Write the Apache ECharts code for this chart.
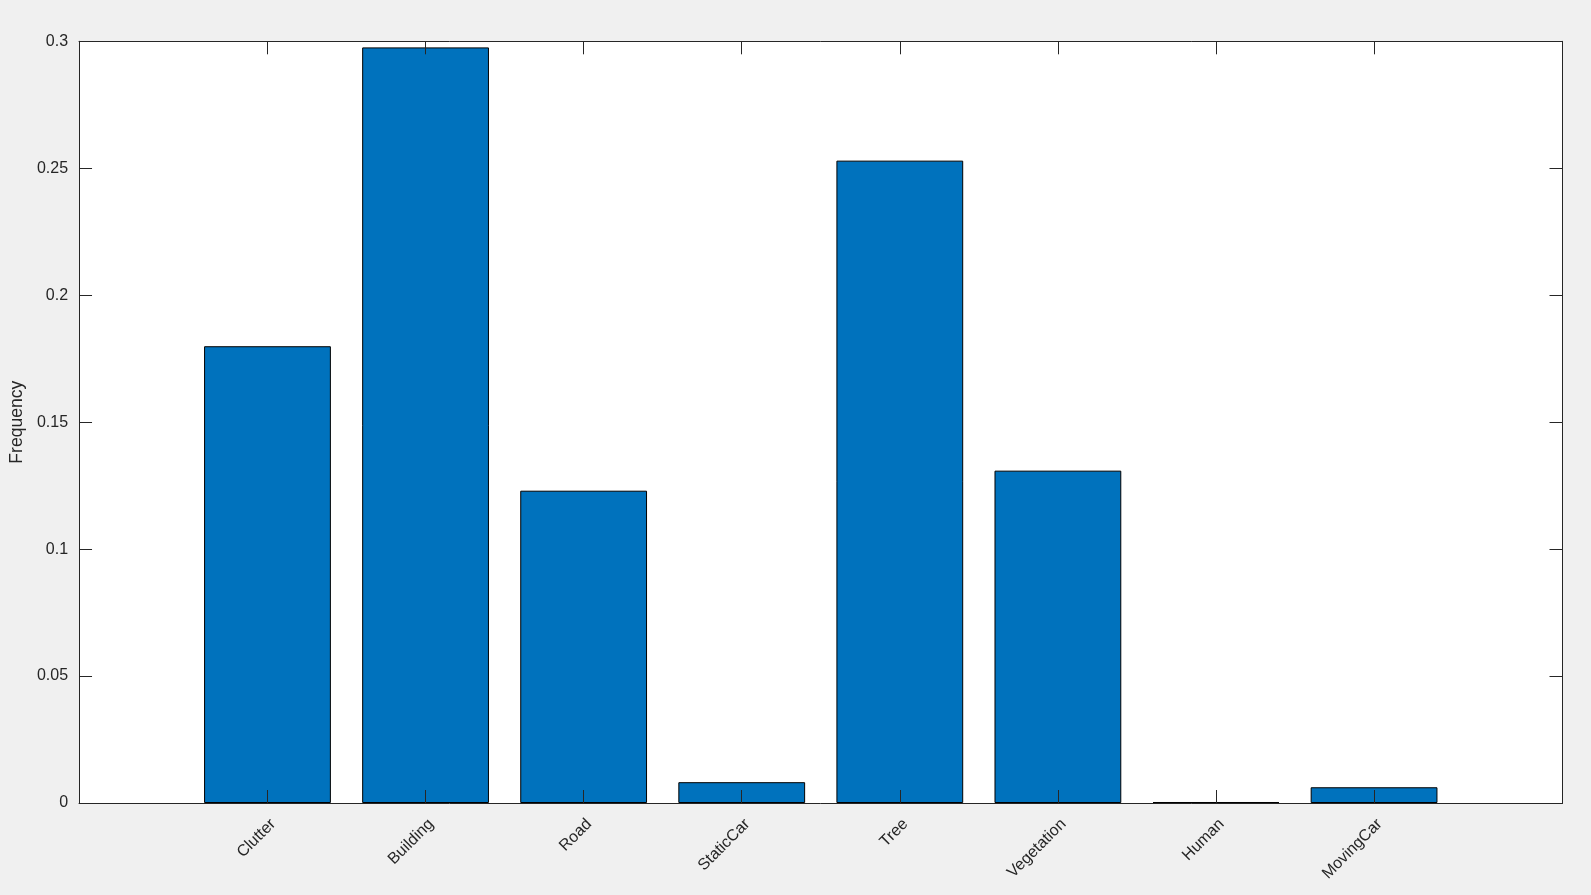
<!DOCTYPE html>
<html>
<head>
<meta charset="utf-8">
<script src="https://cdn.jsdelivr.net/npm/echarts@6/dist/echarts.min.js"></script>
<style>
html,body{margin:0;padding:0;background:#f0f0f0;}
#chart{width:1591px;height:895px;}
</style>
</head>
<body>
<div id="chart"></div>
<script>
const categories = ['Clutter','Building','Road','StaticCar','Tree','Vegetation','Human','MovingCar'];
const frequency = [0.1799, 0.2976, 0.1230, 0.0082, 0.2530, 0.1309, 0.0004, 0.0062];
const yTicks = [0, 0.05, 0.1, 0.15, 0.2, 0.25, 0.3];

const positions = categories.map((c, i) => i + 1);
const barData = frequency.map((v, i) => [positions[i], v]);

const textColor = '#262626';
const fontFamily = 'Liberation Sans, Arial, Helvetica, sans-serif';

const chart = echarts.init(document.getElementById('chart'));
const xCommon = {
  type: 'value',
  min: -0.192,
  max: 9.192,
  z: 10,
  splitLine: { show: false },
  axisLine: { show: true, onZero: false, lineStyle: { color: textColor, width: 1 } },
  axisTick: { show: true, inside: true, length: 13, customValues: positions, lineStyle: { color: textColor, width: 1 } }
};
const yCommon = {
  type: 'value',
  min: 0,
  max: 0.3,
  interval: 0.05,
  z: 10,
  splitLine: { show: false },
  axisLine: { show: true, onZero: false, lineStyle: { color: textColor, width: 1 } },
  axisTick: { show: true, inside: true, length: 13, customValues: yTicks, lineStyle: { color: textColor, width: 1 } }
};
chart.setOption({
  backgroundColor: '#f0f0f0',
  animation: false,
  grid: { left: 75.7, right: 28.5, top: 41.3, bottom: 92, show: true, backgroundColor: '#ffffff', borderWidth: 0 },
  xAxis: [
    Object.assign({}, xCommon, {
      position: 'bottom',
      axisLabel: {
        show: true, customValues: positions, rotate: 45, margin: 13,
        verticalAlign: 'top',
        color: textColor, fontSize: 16, fontFamily: fontFamily,
        formatter: v => categories[Math.round(v) - 1] || ''
      }
    }),
    Object.assign({}, xCommon, { position: 'top', axisLabel: { show: false } })
  ],
  yAxis: [
    Object.assign({}, yCommon, {
      position: 'left',
      name: 'Frequency',
      nameLocation: 'middle',
      nameGap: 49,
      nameRotate: 90,
      nameTextStyle: { color: textColor, fontSize: 17.6, fontFamily: fontFamily },
      axisLabel: {
        show: true, customValues: yTicks, margin: 11, color: textColor, fontSize: 16, fontFamily: fontFamily,
        formatter: v => String(parseFloat(v.toFixed(2)))
      }
    }),
    Object.assign({}, yCommon, { position: 'right', axisLabel: { show: false } })
  ],
  series: [{
    type: 'bar',
    xAxisIndex: 0,
    yAxisIndex: 0,
    data: barData,
    barWidth: 126.8,
    itemStyle: { color: '#0072BD', borderColor: '#000000', borderWidth: 1 },
    z: 1
  }]
});
</script>
</body>
</html>
